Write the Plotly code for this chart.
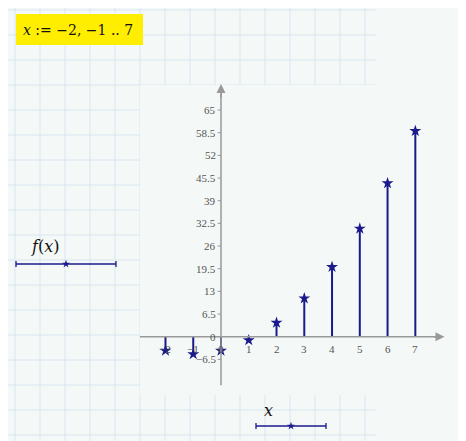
import plotly.graph_objects as go

x_vals = [-2, -1, 0, 1, 2, 3, 4, 5, 6, 7]
f_vals = [-4, -5, -4, -1, 4, 11, 20, 31, 44, 59]
y_ticks = [65, 58.5, 52, 45.5, 39, 32.5, 26, 19.5, 13, 6.5, 0, -6.5]
x_ticks = [-2, -1, 0, 1, 2, 3, 4, 5, 6, 7]

OFF = 8
W, H = 466, 441
X0, SX = 221.0 - OFF, 27.76
Y0, SY = 336.7 - OFF, 3.487
xr = [(0 - X0) / SX, (W - X0) / SX]
yr = [(Y0 - H) / SY, Y0 / SY]

def px(p): return (p - OFF) / W
def py(q): return 1 - (q - OFF) / H
def dx(p): return (p - OFF - X0) / SX
def dy(q): return (Y0 - (q - OFF)) / SY

BG = "#f4f8f6"
GRID = "#d6e6f2"
NAVY = "#1a1a8c"
AX = "#999999"
TF = dict(family="Liberation Serif", size=11, color="#555")

shapes = []
for i in range(0, 20):
    p = 15 + 25 * i
    shapes.append(dict(type="line", xref="paper", yref="paper", x0=px(p), x1=px(p), y0=0, y1=1,
                       line=dict(color=GRID, width=1), layer="below"))
for j in range(0, 19):
    q = 10 + 25 * j
    shapes.append(dict(type="line", xref="paper", yref="paper", x0=0, x1=1, y0=py(q), y1=py(q),
                       line=dict(color=GRID, width=1), layer="below"))
shapes.append(dict(type="rect", xref="paper", yref="paper", x0=px(140), x1=1.1, y0=py(395), y1=py(85),
                   fillcolor=BG, line=dict(width=0), layer="below"))
shapes.append(dict(type="rect", xref="paper", yref="paper", x0=px(376), x1=1.1, y0=-0.1, y1=1.1,
                   fillcolor=BG, line=dict(width=0), layer="below"))
shapes.append(dict(type="line", x0=dx(140), x1=7.85, y0=0, y1=0, line=dict(color=AX, width=1.5)))
shapes.append(dict(type="line", x0=0, x1=0, y0=-13.9, y1=70.5, line=dict(color=AX, width=1.5)))

annotations = []
for t in y_ticks:
    lab = ("\u2212" + f"{abs(t):g}") if t < 0 else f"{t:g}"
    annotations.append(dict(x=-0.12, y=t, text=lab, showarrow=False, xanchor="right", yanchor="middle", font=TF))
    shapes.append(dict(type="line", x0=-0.12, x1=0.0, y0=t, y1=t, line=dict(color=AX, width=1)))
for t in x_ticks:
    lab = ("\u2212" + f"{abs(t):g}") if t < 0 else f"{t:g}"
    annotations.append(dict(x=t, y=-1.2, text=lab, showarrow=False, xanchor="center", yanchor="top", font=TF))
annotations.append(dict(x=0, y=72.5, ax=0, ay=68, xref="x", yref="y", axref="x", ayref="y", text="",
                        showarrow=True, arrowhead=2, arrowsize=1.2, arrowwidth=1.5, arrowcolor=AX))
annotations.append(dict(x=8.05, y=0, ax=7.6, ay=0, xref="x", yref="y", axref="x", ayref="y", text="",
                        showarrow=True, arrowhead=2, arrowsize=1.2, arrowwidth=1.5, arrowcolor=AX))

shapes.append(dict(type="rect", xref="paper", yref="paper", x0=px(16), x1=px(143), y0=py(45), y1=py(14),
                   fillcolor="#ffee00", line=dict(width=0)))
annotations.append(dict(xref="paper", yref="paper", x=px(21), y=py(30), xanchor="left", yanchor="middle",
                        text="<i>x</i> := \u22122, \u22121 .. 7",
                        showarrow=False, font=dict(family="DejaVu Serif", size=14, color="#111")))
annotations.append(dict(xref="paper", yref="paper", x=px(45), y=py(246), xanchor="center", yanchor="middle",
                        text="<i>f</i>(<i>x</i>)",
                        showarrow=False, font=dict(family="DejaVu Serif", size=16, color="#111")))
annotations.append(dict(xref="paper", yref="paper", x=px(268), y=py(410), xanchor="center", yanchor="middle",
                        text="<i>x</i>",
                        showarrow=False, font=dict(family="DejaVu Serif", size=16, color="#111")))

def placeholder(xa, xb, q):
    shapes.append(dict(type="line", xref="paper", yref="paper", x0=px(xa), x1=px(xb), y0=py(q), y1=py(q),
                       line=dict(color=NAVY, width=1.3)))
    for e in (xa, xb):
        shapes.append(dict(type="line", xref="paper", yref="paper", x0=px(e), x1=px(e), y0=py(q - 3), y1=py(q + 3),
                           line=dict(color=NAVY, width=1.3)))
placeholder(16, 116, 264)
placeholder(256, 326, 426)

stem_x, stem_y = [], []
for xv, fv in zip(x_vals, f_vals):
    stem_x += [xv, xv, None]
    stem_y += [0, fv, None]

fig = go.Figure()
fig.add_trace(go.Scatter(x=stem_x, y=stem_y, mode="lines", line=dict(color=NAVY, width=2), hoverinfo="skip"))
fig.add_trace(go.Scatter(x=x_vals, y=f_vals, mode="markers",
                         marker=dict(symbol="star", size=9, color=NAVY)))
fig.add_trace(go.Scatter(x=[dx(66), dx(291)], y=[dy(264), dy(426)], mode="markers",
                         marker=dict(symbol="star", size=6, color=NAVY)))

fig.update_layout(width=W, height=H, margin=dict(l=0, r=0, t=0, b=0), showlegend=False,
                  paper_bgcolor=BG, plot_bgcolor="rgba(0,0,0,0)", shapes=shapes, annotations=annotations)
fig.update_xaxes(range=xr, visible=False, fixedrange=True)
fig.update_yaxes(range=yr, visible=False, fixedrange=True)
fig.write_html("out.html")
